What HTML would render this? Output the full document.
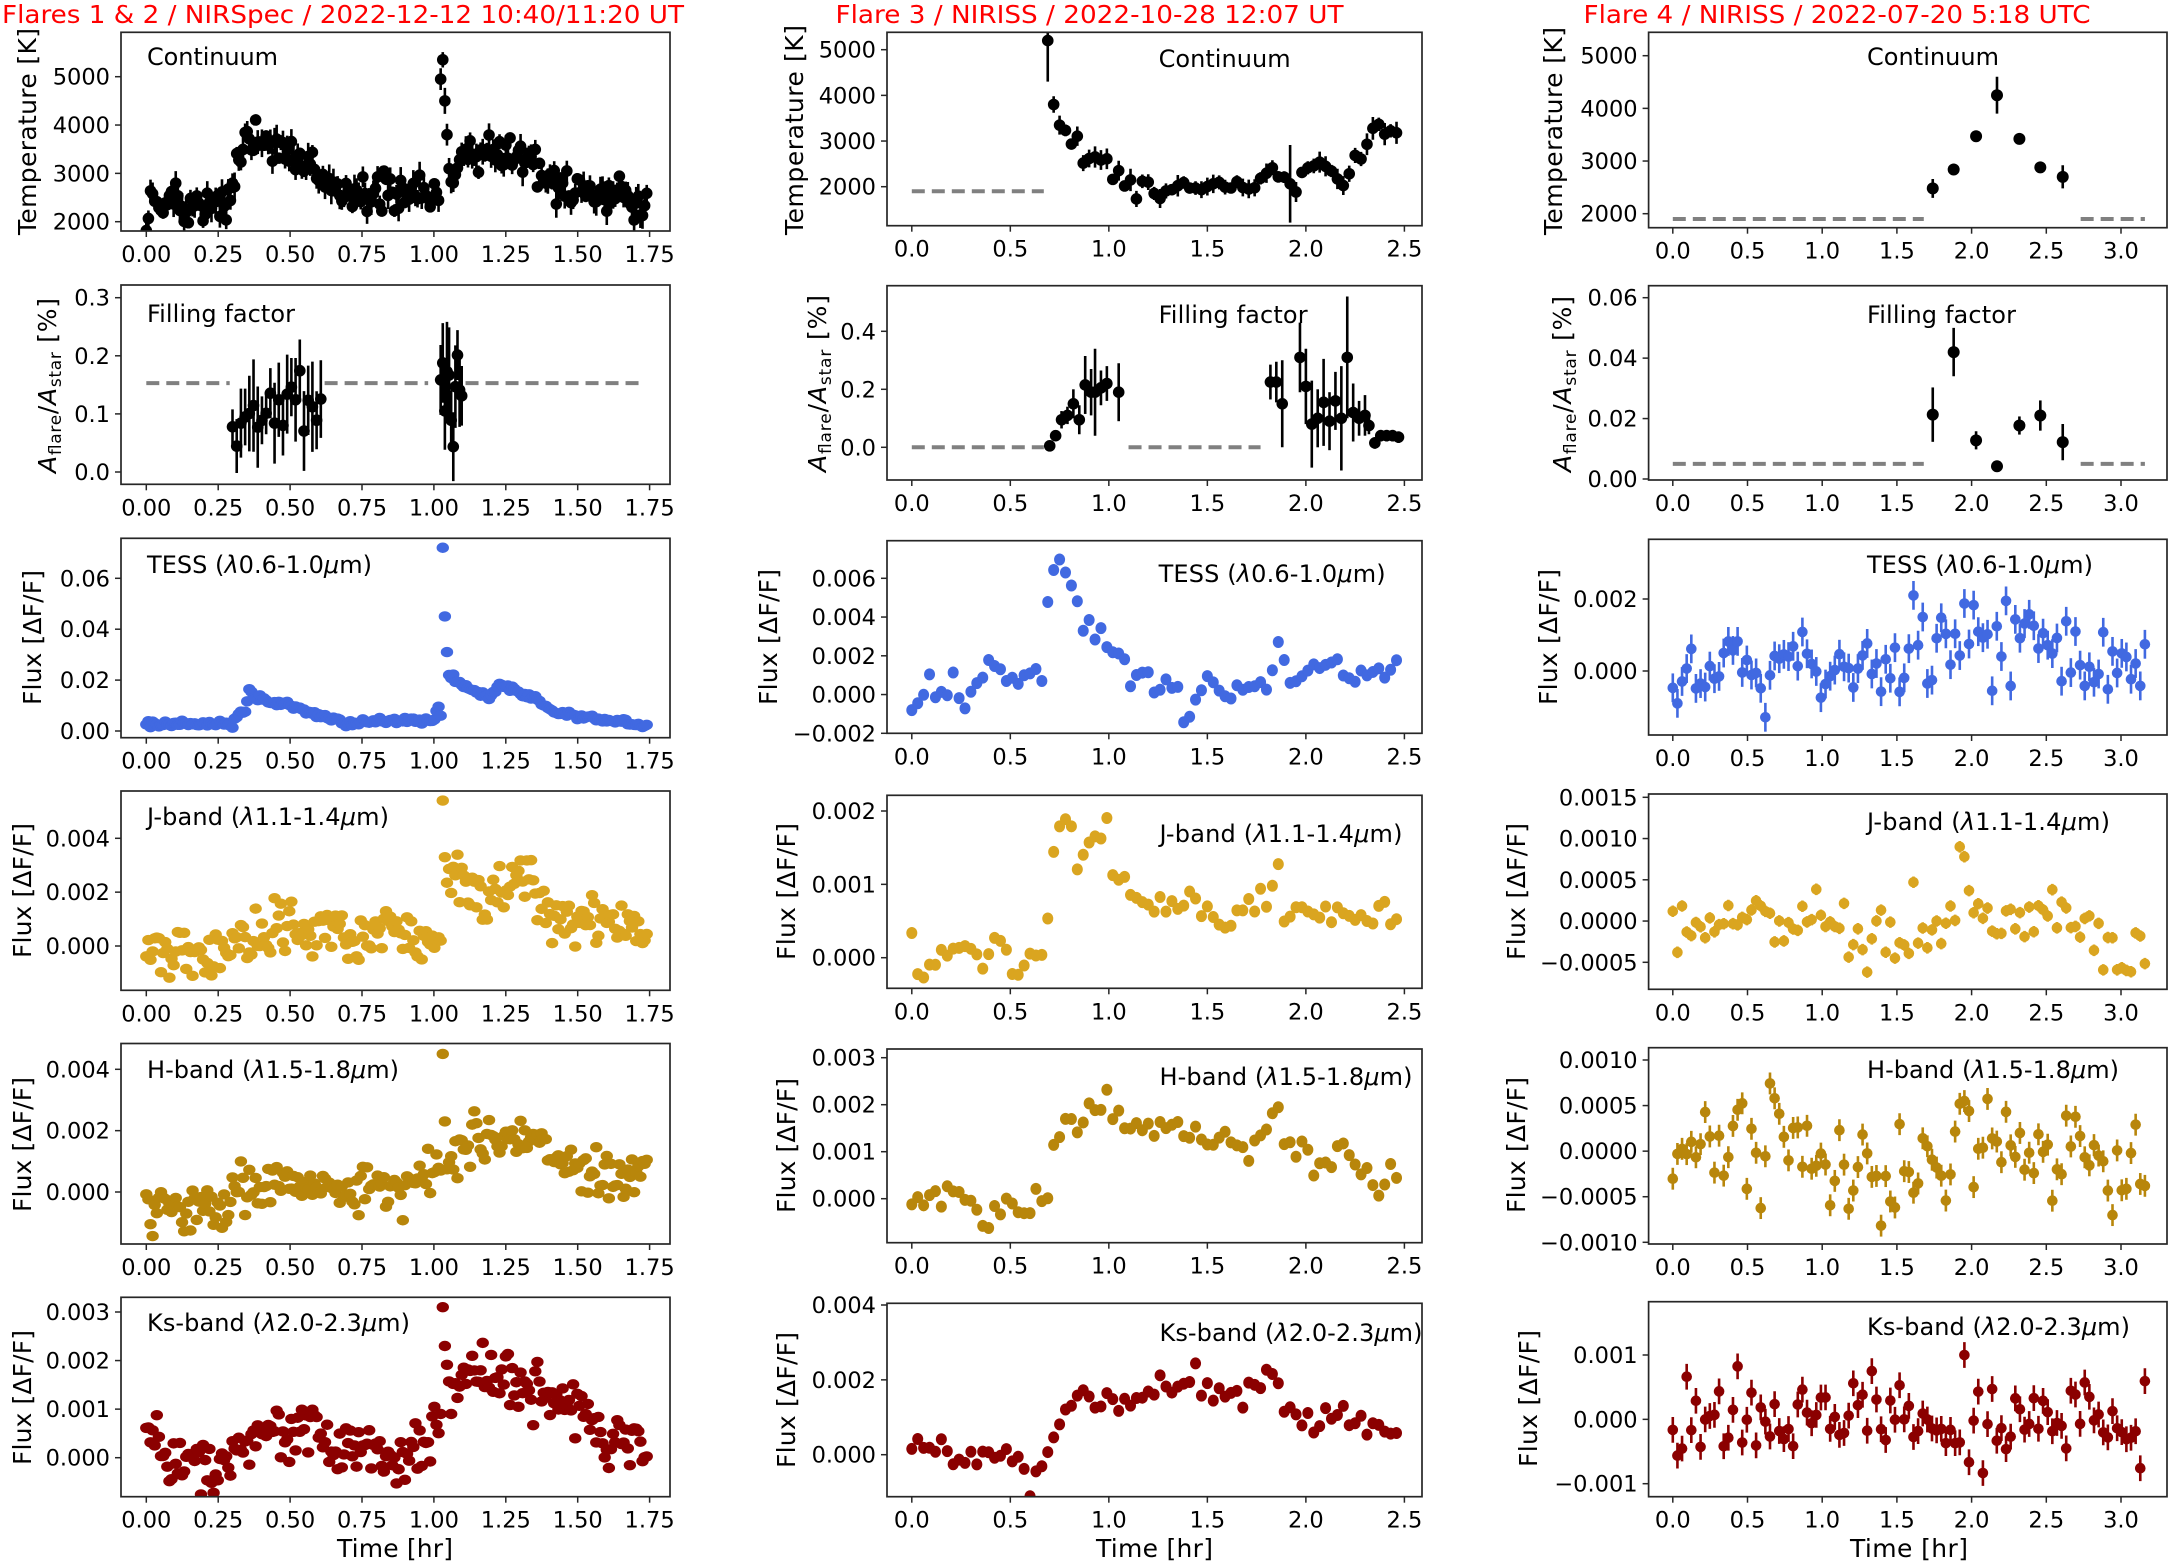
<!DOCTYPE html>
<html><head><meta charset="utf-8">
<style>
html,body{margin:0;padding:0;background:#fff;}
svg{display:block;font-family:"DejaVu Sans","Liberation Sans",sans-serif;}
</style></head>
<body>
<svg id="c" xmlns="http://www.w3.org/2000/svg" width="2170" height="1565" viewBox="0 0 2170 1565">
<rect width="2170" height="1565" fill="#fff"/>
<defs id="defs"></defs>
<g id="plots"></g>
<g font-size="25" fill="#ff0000">
<text x="343" y="23" text-anchor="middle" textLength="682" lengthAdjust="spacingAndGlyphs">Flares 1 &amp; 2 / NIRSpec / 2022-12-12 10:40/11:20 UT</text>
<text x="1089.5" y="23" text-anchor="middle" textLength="508" lengthAdjust="spacingAndGlyphs">Flare 3 / NIRISS / 2022-10-28 12:07 UT</text>
<text x="1837" y="23" text-anchor="middle" textLength="507" lengthAdjust="spacingAndGlyphs">Flare 4 / NIRISS / 2022-07-20 5:18 UTC</text>
</g>
<g font-size="24" fill="#000" lengthAdjust="spacingAndGlyphs">
<text x="147" y="65" textLength="131">Continuum</text>
<text x="147" y="322" textLength="148">Filling factor</text>
<text x="147" y="573" textLength="225">TESS (<tspan font-style="italic">λ</tspan>0.6-1.0<tspan font-style="italic">μ</tspan>m)</text>
<text x="147" y="825" textLength="242">J-band (<tspan font-style="italic">λ</tspan>1.1-1.4<tspan font-style="italic">μ</tspan>m)</text>
<text x="147" y="1078" textLength="252">H-band (<tspan font-style="italic">λ</tspan>1.5-1.8<tspan font-style="italic">μ</tspan>m)</text>
<text x="147" y="1331" textLength="263">Ks-band (<tspan font-style="italic">λ</tspan>2.0-2.3<tspan font-style="italic">μ</tspan>m)</text>

<text x="1158.6" y="67" textLength="132">Continuum</text>
<text x="1158.6" y="323" textLength="149">Filling factor</text>
<text x="1158.6" y="582" textLength="227">TESS (<tspan font-style="italic">λ</tspan>0.6-1.0<tspan font-style="italic">μ</tspan>m)</text>
<text x="1159.5" y="842" textLength="243">J-band (<tspan font-style="italic">λ</tspan>1.1-1.4<tspan font-style="italic">μ</tspan>m)</text>
<text x="1159.5" y="1085" textLength="253">H-band (<tspan font-style="italic">λ</tspan>1.5-1.8<tspan font-style="italic">μ</tspan>m)</text>
<text x="1159.5" y="1341" textLength="263">Ks-band (<tspan font-style="italic">λ</tspan>2.0-2.3<tspan font-style="italic">μ</tspan>m)</text>

<text x="1867" y="65" textLength="132">Continuum</text>
<text x="1867" y="323" textLength="149">Filling factor</text>
<text x="1867" y="573" textLength="226">TESS (<tspan font-style="italic">λ</tspan>0.6-1.0<tspan font-style="italic">μ</tspan>m)</text>
<text x="1867" y="830" textLength="243">J-band (<tspan font-style="italic">λ</tspan>1.1-1.4<tspan font-style="italic">μ</tspan>m)</text>
<text x="1867" y="1078" textLength="252">H-band (<tspan font-style="italic">λ</tspan>1.5-1.8<tspan font-style="italic">μ</tspan>m)</text>
<text x="1867" y="1335" textLength="263">Ks-band (<tspan font-style="italic">λ</tspan>2.0-2.3<tspan font-style="italic">μ</tspan>m)</text>
</g>
<g font-size="25" fill="#000" text-anchor="middle" lengthAdjust="spacingAndGlyphs">
<text x="395" y="1557" textLength="116">Time [hr]</text>
<text x="1154.5" y="1557" textLength="117">Time [hr]</text>
<text x="1909" y="1557" textLength="118">Time [hr]</text>

<text transform="translate(36,131.5) rotate(-90)" textLength="207">Temperature [K]</text>
<text transform="translate(803,130) rotate(-90)" textLength="210">Temperature [K]</text>
<text transform="translate(1562,131) rotate(-90)" textLength="208">Temperature [K]</text>

<text transform="translate(56,385.5) rotate(-90)" textLength="175"><tspan font-style="italic">A</tspan><tspan font-size="17" dy="5">flare</tspan><tspan dy="-5">/</tspan><tspan font-style="italic">A</tspan><tspan font-size="17" dy="5">star</tspan><tspan dy="-5"> [%]</tspan></text>
<text transform="translate(826,383.5) rotate(-90)" textLength="177"><tspan font-style="italic">A</tspan><tspan font-size="17" dy="5">flare</tspan><tspan dy="-5">/</tspan><tspan font-style="italic">A</tspan><tspan font-size="17" dy="5">star</tspan><tspan dy="-5"> [%]</tspan></text>
<text transform="translate(1571,384) rotate(-90)" textLength="176"><tspan font-style="italic">A</tspan><tspan font-size="17" dy="5">flare</tspan><tspan dy="-5">/</tspan><tspan font-style="italic">A</tspan><tspan font-size="17" dy="5">star</tspan><tspan dy="-5"> [%]</tspan></text>

<text transform="translate(41,637.5) rotate(-90)" textLength="135">Flux [ΔF/F]</text>
<text transform="translate(31,890.5) rotate(-90)" textLength="135">Flux [ΔF/F]</text>
<text transform="translate(31,1144.5) rotate(-90)" textLength="135">Flux [ΔF/F]</text>
<text transform="translate(31,1397.5) rotate(-90)" textLength="135">Flux [ΔF/F]</text>

<text transform="translate(777,637) rotate(-90)" textLength="136">Flux [ΔF/F]</text>
<text transform="translate(795,891.5) rotate(-90)" textLength="137">Flux [ΔF/F]</text>
<text transform="translate(795,1145.5) rotate(-90)" textLength="135">Flux [ΔF/F]</text>
<text transform="translate(795,1400) rotate(-90)" textLength="136">Flux [ΔF/F]</text>

<text transform="translate(1557,637) rotate(-90)" textLength="136">Flux [ΔF/F]</text>
<text transform="translate(1525,891.5) rotate(-90)" textLength="137">Flux [ΔF/F]</text>
<text transform="translate(1525,1145) rotate(-90)" textLength="136">Flux [ΔF/F]</text>
<text transform="translate(1537,1398.5) rotate(-90)" textLength="137">Flux [ΔF/F]</text>
</g>
</svg>
<script>
const NS='http://www.w3.org/2000/svg';
const root=document.getElementById('plots');
const defs=document.getElementById('defs');
function el(tag,attrs,parent){const e=document.createElementNS(NS,tag);for(const k in attrs)e.setAttribute(k,attrs[k]);(parent||root).appendChild(e);return e;}
function lin(v,m){return m[1]+(v-m[0])*(m[3]-m[1])/(m[2]-m[0]);}
function interp(keys,t){if(t<=keys[0][0])return keys[0][1];for(let i=1;i<keys.length;i++){if(t<=keys[i][0]){const a=keys[i-1],b=keys[i];return a[1]+(b[1]-a[1])*(t-a[0])/(b[0]-a[0]);}}return keys[keys.length-1][1];}
let seed=987654;
function rnd(){seed|=0;seed=seed+0x6D2B79F5|0;let t=Math.imul(seed^seed>>>15,1|seed);t=t+Math.imul(t^t>>>7,61|t)^t;return((t^t>>>14)>>>0)/4294967296;}
function gau(){let u=rnd()||1e-9,v=rnd();return Math.sqrt(-2*Math.log(u))*Math.cos(2*Math.PI*v);}
function fmt(v,d){if(Math.abs(v)<1e-12)v=0;return v.toFixed(d).replace('-','\u2212');}

const cols=[
 {bx:[121,670],xm:[0,146.3,1.75,649.6],xt:[0,.25,.5,.75,1,1.25,1.5,1.75],xd:2},
 {bx:[887,1422],xm:[0,911.8,2.5,1404.4],xt:[0,.5,1,1.5,2,2.5],xd:1},
 {bx:[1648.6,2167],xm:[0,1672.8,3,2121],xt:[0,.5,1,1.5,2,2.5,3],xd:1}];
const specs=[
 [{by:[32.3,231],ym:[5000,76.7,2000,221.7],yt:[2000,3000,4000,5000],yd:0},
  {by:[32.3,225.7],ym:[5000,49.7,2000,186.7],yt:[2000,3000,4000,5000],yd:0},
  {by:[32.3,227.7],ym:[5000,55.7,2000,213.7],yt:[2000,3000,4000,5000],yd:0}],
 [{by:[285,484.3],ym:[.3,297.7,0,472],yt:[0,.1,.2,.3],yd:1},
  {by:[285.7,480],ym:[.4,331.3,0,447.3],yt:[0,.2,.4],yd:1},
  {by:[285.7,480],ym:[.06,297.7,0,479],yt:[0,.02,.04,.06],yd:2}],
 [{by:[538.3,737.7],ym:[.06,578.3,0,731],yt:[0,.02,.04,.06],yd:2},
  {by:[540.7,733.3],ym:[.006,578.3,-.002,733.3],yt:[-.002,0,.002,.004,.006],yd:3},
  {by:[539.3,735],ym:[.002,599,0,671],yt:[0,.002],yd:3}],
 [{by:[791,990.3],ym:[.004,838.3,0,946],yt:[0,.002,.004],yd:3},
  {by:[795.3,988.3],ym:[.002,811,0,957.7],yt:[0,.001,.002],yd:3},
  {by:[794,989.3],ym:[.0015,797.3,-.0005,962.3],yt:[-.0005,0,.0005,.001,.0015],yd:4}],
 [{by:[1043.5,1244],ym:[.004,1069.3,0,1192],yt:[0,.002,.004],yd:3},
  {by:[1049,1242.7],ym:[.003,1057.7,0,1198.7],yt:[0,.001,.002,.003],yd:3},
  {by:[1047.7,1244],ym:[.001,1060,-.001,1242.3],yt:[-.001,-.0005,0,.0005,.001],yd:4}],
 [{by:[1297.3,1496.7],ym:[.003,1312,0,1457.7],yt:[0,.001,.002,.003],yd:3},
  {by:[1303.3,1496.7],ym:[.004,1305,0,1454.7],yt:[0,.002,.004],yd:3},
  {by:[1301.7,1496.7],ym:[.001,1355,-.001,1483.7],yt:[-.001,0,.001],yd:3}]];
let cid=0;
function P(r,c){const C=cols[c],S=specs[r][c];const id='cp'+(cid++);
 const cp=el('clipPath',{id:id},defs);el('rect',{x:C.bx[0],y:S.by[0],width:C.bx[1]-C.bx[0],height:S.by[1]-S.by[0]},cp);
 const g=el('g',{'clip-path':'url(#'+id+')'});
 return {C,S,g,X:v=>lin(v,C.xm),Y:v=>lin(v,S.ym)};}
function tl(x,y,s,anchor){const t=el('text',{x:x,y:y,'text-anchor':anchor,'font-size':22.5,fill:'#000'});t.textContent=s;}
function frame(p){const [x0,x1]=p.C.bx,[y0,y1]=p.S.by;
 el('rect',{x:x0,y:y0,width:x1-x0,height:y1-y0,fill:'none',stroke:'#262626','stroke-width':1.7});
 for(const v of p.C.xt){const x=p.X(v);el('line',{x1:x,x2:x,y1:y1,y2:y1+6,stroke:'#262626','stroke-width':1.5});tl(x,y1+31,fmt(v,p.C.xd),'middle');}
 for(const v of p.S.yt){const y=p.Y(v);el('line',{x1:x0-6,x2:x0,y1:y,y2:y,stroke:'#262626','stroke-width':1.5});tl(x0-11,y+8,fmt(v,p.S.yd),'end');}}
function pts(p,data,color,rx,ry,ew){
 for(const d of data){const [t,v,e]=d;if(e){el('line',{x1:p.X(t),x2:p.X(t),y1:p.Y(v-e),y2:p.Y(v+e),stroke:color,'stroke-width':ew||2.6},p.g);}}
 for(const d of data){el('ellipse',{cx:p.X(d[0]),cy:p.Y(d[1]),rx:rx,ry:ry||rx,fill:color},p.g);}}
function dash(p,segs,v){for(const [a,b] of segs)el('line',{x1:p.X(a),x2:p.X(b),y1:p.Y(v),y2:p.Y(v),stroke:'#808080','stroke-width':4,'stroke-dasharray':'13,7'},p.g);}
function series(ts,keys,sig,err,spikes){const out=ts.map(t=>[t,interp(keys,t)+gau()*sig,typeof err==='function'?err():err]);if(spikes)for(const k in spikes)out[+k][1]=spikes[k];return out;}

const BLUE='#4169e1',JC='#daa520',HC='#b8860b',KC='#8b0000';

/* ---------- Column 1 ---------- */
const N1=239,ts1=[];for(let i=0;i<N1;i++)ts1.push(i*1.74/(N1-1));
const i0=Math.round(1.03/(1.74/(N1-1)));
function sp(arr){const o={};arr.forEach((v,j)=>{o[i0-1+j]=v;});return o;}
{const p=P(0,0);
 const d=series(ts1,[[0,2400],[0.28,2420],[0.3,2600],[0.33,3500],[0.36,3950],[0.4,3700],[0.5,3400],[0.55,3200],[0.62,2900],[0.66,2600],[1.0,2550],[1.015,2500],[1.1,3500],[1.2,3400],[1.35,3300],[1.37,2800],[1.45,2650],[1.6,2550],[1.73,2350]],190,()=>100+rnd()*200,sp([4950,5350,4500,3800]));
 pts(p,d,'#000',5.8,5.8,2.6);frame(p);}
{const p=P(1,0);dash(p,[[0,0.29],[0.62,0.98],[1.11,1.73]],0.153);
 const d=[];let k=0;for(const t of ts1){k++;if(t>=0.29&&t<=0.61&&k%2==0)d.push([t,0.095+0.04*(t-0.29)/0.32+gau()*0.028,0.03+rnd()*0.05]);if(t>=1.02&&t<=1.10)d.push([t,0.1+0.07*(t-1.02)/0.08+gau()*0.04,0.04+rnd()*0.05]);}
 pts(p,d,'#000',5.8,5.8,2.6);frame(p);}
{const p=P(2,0);
 const d=series(ts1,[[0,0.003],[0.3,0.0025],[0.32,0.007],[0.345,0.008],[0.36,0.016],[0.375,0.013],[0.45,0.011],[0.5,0.0105],[0.55,0.008],[0.6,0.006],[0.7,0.0035],[0.8,0.004],[1.0,0.004],[1.06,0.022],[1.1,0.018],[1.19,0.013],[1.23,0.018],[1.3,0.015],[1.35,0.013],[1.42,0.007],[1.5,0.006],[1.6,0.004],[1.74,0.002]],0.0006,0,sp([0.006,0.072,0.045,0.031,0.022]));
 pts(p,d,BLUE,6.2,5.2);frame(p);}
{const p=P(3,0);
 const d=series(ts1,[[0,-0.0001],[0.25,-0.0004],[0.35,0.0002],[0.45,0.0007],[0.6,0.0006],[0.65,0.0012],[0.7,0.0],[0.85,0.0008],[0.95,0.0002],[1.0,0.0003],[1.05,0.0025],[1.15,0.002],[1.3,0.0022],[1.45,0.0012],[1.6,0.001],[1.74,0.0004]],0.0005,0,sp([0.0002,0.0054,0.0033]));
 pts(p,d,JC,6.2,5.2);frame(p);}
{const p=P(4,0);
 const d=series(ts1,[[0,-0.0004],[0.25,-0.0006],[0.4,0.0004],[0.55,0.0003],[0.7,0.0],[0.9,0.0003],[1.0,0.0007],[1.1,0.0014],[1.2,0.0016],[1.35,0.0017],[1.45,0.001],[1.6,0.0005],[1.74,0.0004]],0.0004,0,sp([0.0007,0.0045,0.0023]));
 pts(p,d,HC,6.2,5.2);frame(p);}
{const p=P(5,0);
 const d=series(ts1,[[0,0.0003],[0.1,0.0],[0.3,-0.0001],[0.4,0.0004],[0.55,0.0006],[0.7,0.0002],[0.9,0.0001],[1.0,0.0005],[1.05,0.0015],[1.2,0.0017],[1.35,0.0014],[1.5,0.001],[1.6,0.0005],[1.74,0.0002]],0.0003,0,sp([0.0009,0.0031,0.0023]));
 pts(p,d,KC,6.2,5.2);frame(p);}

/* ---------- Column 2 ---------- */
const ts2=[];for(let k=0;k<=82;k++)ts2.push(+(k*0.03).toFixed(3));
{const p=P(0,1);dash(p,[[0,0.67]],1900);
 const keys=[[0.70,5200],[0.72,3800],[0.75,3350],[0.78,3200],[0.81,3000],[0.84,3100],[0.87,2600],[1.0,2650],[1.02,2150],[1.04,2500],[1.07,2050],[1.11,2100],[1.14,1700],[1.17,2100],[1.25,1900],[1.5,2000],[1.75,2050],[1.82,2400],[1.88,2200],[1.91,2200],[1.94,1850],[1.98,2200],[2.05,2600],[2.12,2400],[2.2,2050],[2.23,2450],[2.3,2700],[2.35,3500],[2.38,3250],[2.41,3050],[2.44,3350],[2.47,3050]];
 const d=[];for(const t of ts2){if(t<0.69)continue;let e=100+rnd()*150;if(Math.abs(t-0.69)<0.01)e=900;if(Math.abs(t-1.92)<0.02)e=850;d.push([t,interp(keys,t)+(t<0.75?0:gau()*60),e]);}
 d[0][1]=5200;pts(p,d,'#000',5.8,5.8,2.6);frame(p);}
{const p=P(1,1);dash(p,[[0,0.67],[1.1,1.77]],0);
 const raw=[[0.70,0.005,0.01],[0.73,0.04,0.015],[0.76,0.095,0.03],[0.79,0.11,0.03],[0.82,0.15,0.05],[0.85,0.095,0.05],[0.88,0.215,0.1],[0.91,0.19,0.08],[0.93,0.19,0.15],[0.96,0.205,0.06],[0.99,0.22,0.06],[1.05,0.19,0.1],
 [1.82,0.225,0.06],[1.85,0.225,0.07],[1.88,0.15,0.15],[1.97,0.31,0.12],[2.0,0.21,0.13],[2.03,0.08,0.15],[2.06,0.1,0.1],[2.09,0.155,0.15],[2.12,0.09,0.1],[2.15,0.16,0.1],[2.18,0.1,0.18],[2.21,0.31,0.21],[2.24,0.12,0.1],[2.27,0.1,0.06],[2.3,0.11,0.07],[2.32,0.075,0.03],[2.35,0.015,0.02],[2.38,0.04,0.02],[2.41,0.04,0.02],[2.44,0.04,0.02],[2.47,0.035,0.02]];
 pts(p,raw,'#000',5.8,5.8,2.6);frame(p);}
{const p=P(2,1);
 const d=series(ts2,[[0,-0.0004],[0.05,0],[0.09,0.0009],[0.12,0.0003],[0.2,0.0002],[0.21,0.0012],[0.25,-0.0008],[0.3,0.0003],[0.35,0.0009],[0.42,0.0016],[0.44,0.0019],[0.47,0.0008],[0.55,0.0008],[0.6,0.0012],[0.65,0.0012],[0.67,0.0007],[0.69,0.0045],[0.72,0.0067],[0.76,0.007],[0.79,0.0062],[0.82,0.0056],[0.84,0.0046],[0.87,0.0036],[0.9,0.0036],[0.92,0.0029],[0.96,0.0033],[1.0,0.0027],[1.05,0.0021],[1.1,0.0012],[1.15,0.0009],[1.2,0.0007],[1.27,0.0005],[1.35,0.0004],[1.39,-0.0011],[1.45,-0.0002],[1.5,0.0012],[1.55,0.0002],[1.65,0.0002],[1.75,0.0007],[1.83,0.0007],[1.86,0.0027],[1.9,0.0007],[1.95,0.0005],[2.0,0.001],[2.12,0.0013],[2.17,0.0015],[2.2,0.0008],[2.3,0.001],[2.4,0.0011],[2.46,0.0016]],0.00025,0.0002);
 pts(p,d,BLUE,5.5,6);frame(p);}
{const p=P(3,1);
 const d=series(ts2,[[0,0.00015],[0.03,-0.00015],[0.06,-0.0002],[0.12,0.00005],[0.24,0.00015],[0.38,-0.0001],[0.43,0.0002],[0.5,-0.0001],[0.6,-0.00015],[0.66,0.0001],[0.69,0.0005],[0.72,0.0013],[0.75,0.00185],[0.81,0.00185],[0.84,0.00125],[0.87,0.0014],[0.93,0.0016],[0.99,0.0019],[1.02,0.0012],[1.06,0.0012],[1.1,0.001],[1.15,0.0008],[1.25,0.0007],[1.3,0.0007],[1.45,0.0007],[1.58,0.0005],[1.65,0.0006],[1.8,0.00085],[1.86,0.0013],[1.9,0.0004],[1.97,0.00085],[2.03,0.0005],[2.1,0.0006],[2.2,0.00065],[2.3,0.0005],[2.4,0.0007],[2.47,0.00045]],0.0001,0.00004);
 pts(p,d,JC,5.5,6);frame(p);}
{const p=P(4,1);
 const d=series(ts2,[[0,0.0001],[0.3,0],[0.38,-0.0006],[0.45,0],[0.6,-0.0004],[0.67,0],[0.7,0.0001],[0.72,0.001],[0.75,0.0015],[0.85,0.0015],[0.96,0.0019],[0.99,0.0023],[1.03,0.0016],[1.3,0.0015],[1.55,0.0013],[1.75,0.0012],[1.83,0.0016],[1.86,0.002],[1.9,0.0009],[2.0,0.0012],[2.04,0.0005],[2.08,0.0008],[2.2,0.0009],[2.3,0.0006],[2.35,0.0001],[2.47,0.0005]],0.00015,0.00006);
 pts(p,d,HC,5.5,6);frame(p);}
{const p=P(5,1);
 const d=series(ts2,[[0,0.0002],[0.5,-0.0001],[0.6,-0.0007],[0.65,-0.0003],[0.7,0.0004],[0.75,0.001],[0.8,0.0014],[1.0,0.0015],[1.2,0.0017],[1.4,0.0019],[1.6,0.0016],[1.75,0.002],[1.85,0.0021],[1.9,0.0008],[2.0,0.0012],[2.05,0.0007],[2.2,0.0011],[2.35,0.0005],[2.45,0.0008],[2.47,0.0002]],0.0002,0.00012);
 pts(p,d,KC,5.5,6);frame(p);}

/* ---------- Column 3 ---------- */
const ts3=[];for(let k=0;k<=102;k++)ts3.push(k*3.16/102);
{const p=P(0,2);dash(p,[[0,1.68],[2.73,3.16]],1900);
 pts(p,[[1.74,2480,180],[1.88,2840,60],[2.03,3470,80],[2.17,4250,350],[2.32,3420,60],[2.46,2880,70],[2.61,2700,220]],'#000',6,6,2.6);frame(p);}
{const p=P(1,2);dash(p,[[0,1.68],[2.73,3.16]],0.005);
 pts(p,[[1.74,0.0213,0.009],[1.88,0.042,0.008],[2.03,0.0128,0.003],[2.17,0.0042,0.001],[2.32,0.0177,0.003],[2.46,0.021,0.005],[2.61,0.0122,0.006]],'#000',6,6,2.6);frame(p);}
{const p=P(2,2);
 const d=series(ts3,[[0,0],[0.5,0],[0.8,0.0004],[1.0,0.0001],[1.5,0.0002],[1.8,0.0002],[2.0,0.0011],[2.3,0.0011],[2.5,0.0007],[3.0,0],[3.16,-0.0002]],0.0005,0.0004,{52:0.0021,54:0.0015});
 pts(p,d,BLUE,5.3,5.3);frame(p);}
{const p=P(3,2);
 const d=series(ts3,[[0,-0.0001],[0.5,0.00005],[1.0,-0.00005],[1.5,-0.0002],[1.8,-0.0001],[2.0,0.0002],[2.2,-0.0001],[2.5,0.0002],[2.7,0.0],[3.0,-0.0005],[3.16,-0.0004]],0.00015,0.00007,{62:0.0009,63:0.00078,52:0.00047});
 pts(p,d,JC,5.3,5.3);frame(p);}
{const p=P(4,2);
 const d=series(ts3,[[0,0],[0.4,0.0002],[1,-0.0001],[1.6,-0.0003],[2.0,0],[2.5,-0.0001],[3.16,-0.0003]],0.00027,0.00012,{62:0.00052,63:0.00055});
 pts(p,d,HC,5.3,5.3);frame(p);}
{const p=P(5,2);
 const d=series(ts3,[[0,0],[3.16,0]],0.00036,0.0002,{63:0.001});
 pts(p,d,KC,5.3,5.3);frame(p);}
</script>
</body></html>
